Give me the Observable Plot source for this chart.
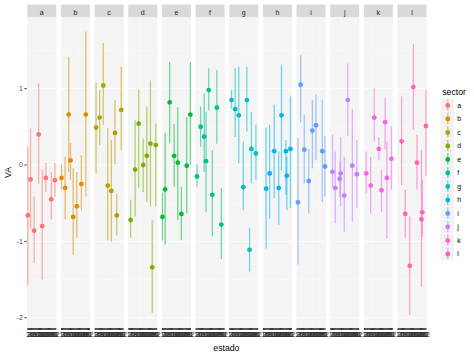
<!DOCTYPE html>
<html><head><meta charset="utf-8">
<script src="https://cdn.jsdelivr.net/npm/d3@7"></script>
<script src="https://cdn.jsdelivr.net/npm/@observablehq/plot@0.6"></script>
<style>
body{margin:0;background:#fff;}
#wrap{position:relative;width:474px;height:355px;font-family:"Liberation Sans",Arial,sans-serif;}
#legend{position:absolute;left:426px;top:82px;}
</style></head><body><div id="wrap"></div>
<script>
const sectors = ["a","b","c","d","e","f","g","h","i","j","k","l"];
const sectorColors = ["#F8766D","#DE8C00","#B79F00","#7CAE00","#00BA38","#00C08B","#00BFC4","#00B4F0","#619CFF","#C77CFF","#F564E3","#FF64B0"];
const estados = ["1","2","3","4","5","6","7","8","9","10","11","12","13","14","15","16","17","18","19","20","21","22","23","24","25","26","27","28","29","30","31","32"];
const yTicks = [-2, -1, 0, 1];
const yMinor = [-1.5, -0.5, 0.5, 1.5];

const pSector = [
 "a","a","a","a","a","a","a","a",
 "b","b","b","b","b","b","b","b",
 "c","c","c","c","c","c","c","c",
 "d","d","d","d","d","d","d","d",
 "e","e","e","e","e","e","e","e",
 "f","f","f","f","f","f","f","f",
 "g","g","g","g","g","g","g","g",
 "h","h","h","h","h","h","h","h",
 "i","i","i","i","i","i","i","i",
 "j","j","j","j","j","j","j","j",
 "k","k","k","k","k","k","k","k",
 "l","l","l","l","l","l","l","l"];
const pEstado = [
 1,4,8,13,17,21,27,31,
 1,5,9,11,14,18,23,28,
 2,6,10,15,19,23,25,30,
 3,8,12,17,21,25,27,31,
 1,4,9,14,18,22,28,32,
 2,6,10,12,15,19,24,29,
 3,7,11,16,20,23,25,30,
 4,8,13,18,21,26,27,31,
 2,5,9,14,18,22,29,32,
 3,6,11,12,16,20,25,30,
 3,8,12,17,20,24,26,31,
 5,9,14,18,22,27,28,32];
const pVA = [
 -0.66,-0.19,-0.86,0.40,-0.80,-0.17,-0.45,-0.20,
 -0.17,-0.30,0.66,0.06,-0.68,-0.54,-0.25,0.66,
 0.49,0.62,1.04,-0.27,-0.34,0.42,-0.66,0.72,
 -0.72,-0.06,0.54,0.00,0.12,0.28,-1.34,0.26,
 -0.68,-0.32,0.82,0.12,0.03,-0.64,-0.01,0.66,
 -0.15,0.50,0.37,0.05,0.98,-0.39,0.75,-0.78,
 0.85,0.73,0.65,-0.29,0.85,-1.11,0.21,0.15,
 -0.31,-0.11,0.18,-0.30,0.65,0.18,-0.14,0.21,
 -0.49,1.05,0.20,-0.21,0.45,0.52,0.18,-0.02,
 -0.09,-0.30,-0.18,-0.11,-0.40,0.85,-0.01,-0.12,
 -0.11,-0.27,0.62,0.21,-0.33,0.56,-0.17,0.08,
 0.31,-0.64,-1.32,1.02,0.03,-0.71,-0.62,0.51];
const pLo = [
 -1.58,-0.85,-1.29,-0.25,-1.51,-0.36,-0.72,-0.42,
 -0.33,-0.72,-0.10,-0.20,-1.18,-0.96,-0.60,-0.42,
 -0.11,0.25,0.52,-0.99,-1.01,0.00,-0.93,0.19,
 -0.96,-0.68,-0.30,-0.36,-0.49,-0.55,-1.94,-0.55,
 -0.99,-1.05,0.28,-0.29,-0.73,-0.99,-0.64,0.00,
 -0.29,0.23,-0.10,-0.62,0.71,-0.94,0.27,-1.24,
 0.73,0.36,0.02,-0.60,0.43,-1.40,-0.24,-0.20,
 -1.10,-0.71,-0.44,-0.79,-0.08,-0.40,-0.60,-0.57,
 -1.31,0.55,-0.25,-0.64,-0.05,0.06,-0.49,-0.42,
 -0.30,-0.77,-0.43,-0.55,-0.88,0.37,-0.75,-0.57,
 -0.38,-0.64,0.30,0.06,-0.62,0.20,-0.97,-0.33,
 -0.27,-0.96,-1.97,0.45,-0.33,-1.60,-0.95,-0.15];
const pHi = [
 0.23,0.47,-0.42,1.06,-0.07,0.02,-0.10,0.02,
 0.00,0.10,1.41,0.28,-0.05,-0.10,0.12,1.74,
 1.07,0.97,1.59,0.48,0.32,0.84,-0.38,1.28,
 -0.46,0.58,0.98,0.34,0.76,1.10,-0.73,0.54,
 -0.37,0.41,1.34,0.53,0.75,-0.29,0.62,1.34,
 0.00,0.76,0.93,0.69,1.26,0.19,1.24,-0.31,
 0.98,1.26,1.28,0.30,1.28,-0.83,0.69,0.52,
 0.48,0.52,0.78,0.17,1.30,0.32,0.10,0.89,
 0.35,1.43,0.65,0.21,0.84,0.92,0.85,0.37,
 0.39,0.17,0.04,0.36,0.10,1.32,0.73,0.32,
 0.17,0.10,1.00,0.36,-0.07,0.87,0.30,0.50,
 0.89,-0.33,-0.68,1.58,0.39,0.19,-0.20,0.98];

const data = pVA.map((v, i) => ({
  sector: pSector[i], estado: String(pEstado[i]), va: v, lo: pLo[i], hi: pHi[i]
}));

const font = "Liberation Sans, Arial, sans-serif";

const chart = Plot.plot({
  width: 474, height: 355,
  marginLeft: 26.8, marginRight: 48, marginTop: 17, marginBottom: 27,
  style: {fontFamily: font, background: "white", overflow: "visible"},
  fx: {domain: sectors, paddingInner: 0.138, paddingOuter: 0, round: false, label: null},
  x: {type: "point", domain: estados, padding: 0.6, round: false, label: null},
  y: {domain: [-2.14, 1.93], label: null},
  color: {domain: sectors, range: sectorColors},
  marks: [
    Plot.frame({fill: "#EBEBEB", stroke: null}),
    Plot.frame({fill: "#D9D9D9", stroke: null, insetTop: -13, insetBottom: 311}),
    Plot.gridY({ticks: yMinor, stroke: "white", strokeOpacity: 1, strokeWidth: 0.4}),
    Plot.gridY({ticks: yTicks, stroke: "white", strokeOpacity: 1, strokeWidth: 0.8}),
    Plot.gridX({stroke: "white", strokeOpacity: 1, strokeWidth: 0.5}),
    Plot.axisFx({anchor: "top", tickSize: 0, tickPadding: 3, fontSize: 7, label: null, color: "#1A1A1A"}),
    Plot.axisY({ticks: yTicks, tickFormat: d => String(d), tickSize: 2.5, tickPadding: 2, fontSize: 7, label: null, color: "#4D4D4D"}),
    Plot.axisX({tickSize: 2, tickPadding: 2, fontSize: 7, label: null, color: "#333333"}),
    Plot.ruleX(data, {fx: "sector", x: "estado", y1: "lo", y2: "hi", stroke: "sector", strokeOpacity: 0.55, strokeWidth: 1.3}),
    Plot.dot(data, {fx: "sector", x: "estado", y: "va", fill: "sector", r: 2.4})
  ]
});

const svg = d3.select(chart);
svg.append("text").attr("x", 226.4).attr("y", 351).attr("text-anchor", "middle")
  .attr("font-size", 8.7).attr("fill", "black").attr("font-family", font).text("estado");
svg.append("text").attr("transform", "translate(11,172.5) rotate(-90)").attr("text-anchor", "middle")
  .attr("font-size", 8.7).attr("fill", "black").attr("font-family", font).text("VA");

const legend = Plot.plot({
  width: 48, height: 190,
  marginLeft: 0, marginRight: 0, marginTop: 0, marginBottom: 0,
  style: {fontFamily: font, background: "transparent", overflow: "visible"},
  x: {domain: [0, 48], range: [0, 48], axis: null},
  y: {type: "band", domain: sectors, range: [16.25, 178.25], padding: 0, round: false, axis: null},
  color: {domain: sectors, range: sectorColors},
  marks: [
    Plot.barX(sectors, {x1: 14.5, x2: 28, y: d => d, fill: "#F2F2F2", insetTop: 0.3, insetBottom: 0.3}),
    Plot.tickX(sectors, {x: 21.3, y: d => d, stroke: d => d, strokeOpacity: 0.55, strokeWidth: 1.3, insetTop: 1, insetBottom: 1}),
    Plot.dot(sectors, {x: 21.3, y: d => d, fill: d => d, r: 2.4}),
    Plot.text(sectors, {x: 30.7, y: d => d, text: d => d, textAnchor: "start", fontSize: 7, fill: "black"}),
    Plot.text(["sector"], {frameAnchor: "top-left", dx: 15.7, dy: 10, text: d => d, textAnchor: "start", lineAnchor: "middle", fontSize: 8.7, fill: "black"})
  ]
});
legend.id = "legend";

const wrap = document.getElementById("wrap");
wrap.appendChild(chart);
wrap.appendChild(legend);
</script>
</body></html>
